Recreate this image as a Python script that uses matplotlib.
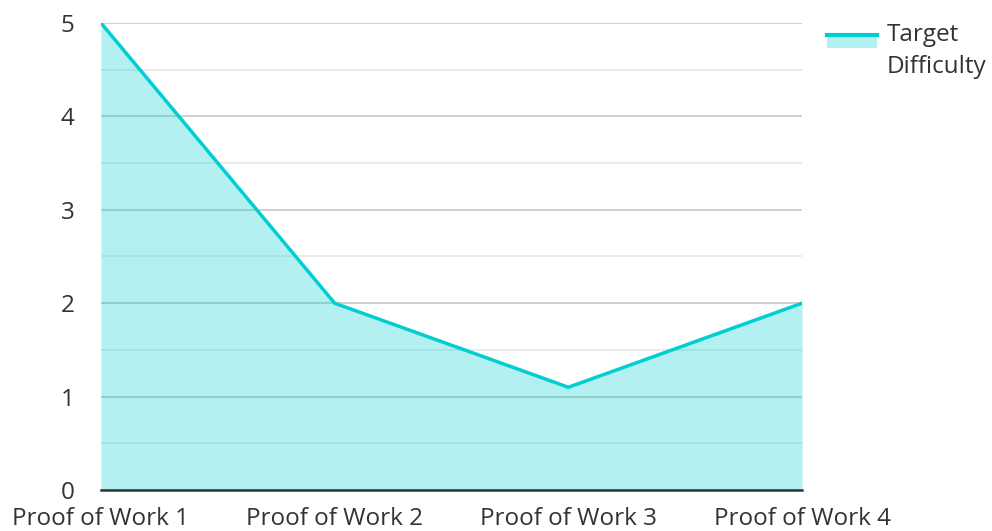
import matplotlib.pyplot as plt
from matplotlib.lines import Line2D
from matplotlib.patches import Rectangle

# data
categories = ["Proof of Work 1", "Proof of Work 2", "Proof of Work 3", "Proof of Work 4"]
target_difficulty = [5, 2, 1.1, 2]
series_name = "Target\nDifficulty"

line_color = "#00CED1"
text_color = "#333333"

plt.rcParams['font.family'] = ['Open Sans', 'DejaVu Sans']

fig = plt.figure(figsize=(9.92, 5.31), dpi=100)
ax = fig.add_axes([0.1018, 0.0772, 0.7067, 0.8795])

x = list(range(len(categories)))
ax.fill_between(x, target_difficulty, 0, color=line_color, alpha=0.3, linewidth=0, zorder=3)
ax.plot(x, target_difficulty, color=line_color, linewidth=2.5, zorder=4, solid_capstyle='round')

ax.set_xlim(0, len(categories) - 1)
ax.set_ylim(0, 5)
ax.set_xticks(x)
ax.set_xticklabels(categories)
ax.set_yticks(range(0, 6))
ax.set_yticks([i + 0.5 for i in range(5)], minor=True)

ax.grid(True, which='major', axis='y', color='#C8C8C8', linewidth=1.2, zorder=1)
ax.grid(True, which='minor', axis='y', color='#E8E8E8', linewidth=1.2, zorder=1)
ax.set_axisbelow(True)

ax.tick_params(axis='both', which='both', length=0, labelsize=17.5, colors=text_color)
ax.tick_params(axis='y', pad=19)
ax.tick_params(axis='x', pad=12.5)

for s in ['top', 'right', 'left']:
    ax.spines[s].set_visible(False)
ax.spines['bottom'].set_color('#333333')
ax.spines['bottom'].set_linewidth(1.8)
ax.spines['bottom'].set_zorder(5)

# legend drawn by hand: line on top of a filled swatch
W, H = fig.get_size_inches() * fig.dpi
fig.add_artist(Rectangle((827 / W, 1 - 48 / H), 50 / W, 13 / H, transform=fig.transFigure,
                         facecolor=line_color, alpha=0.3, linewidth=0))
fig.add_artist(Line2D([827 / W, 877 / W], [1 - 35 / H, 1 - 35 / H], transform=fig.transFigure,
                      color=line_color, linewidth=3))
fig.text(887 / W, 1 - 23 / H, series_name, ha='left', va='top', fontsize=17.5,
         color=text_color, linespacing=1.45)

fig.savefig("out.png", dpi=100)
